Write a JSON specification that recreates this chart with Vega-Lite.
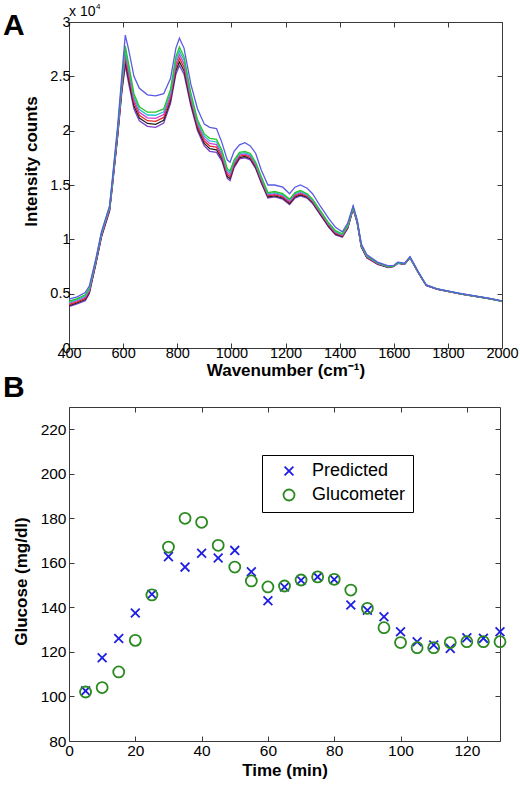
{
"$schema":"https://vega.github.io/schema/vega-lite/v6.json",
"padding":{"left":2,"top":2,"right":5,"bottom":5},
"background":"white",
"bounds":"flush",
"spacing":59,
"resolve":{"scale":{"color":"independent","shape":"independent"},"legend":{"color":"independent","shape":"independent"}},
"config":{
 "font":"Liberation Sans",
 "view":{"stroke":"#3a3a3a","strokeWidth":1},
 "axis":{"domain":false,"grid":false,"tickColor":"#3a3a3a","tickSize":-5,"labelFontSize":15,"labelColor":"#000","labelFont":"Liberation Sans","titleFont":"Liberation Sans","titleFontSize":17,"titleFontWeight":"bold","titleColor":"#000","labelFlush":false,"labelOverlap":false,"format":"d"},
 "title":{"font":"Liberation Sans","fontSize":30,"fontWeight":"bold","anchor":"start","frame":"group","color":"#000","baseline":"alphabetic"}
},
"vconcat":[
{
 "width":433,"height":326,
 "title":{"text":"A","dx":-66,"dy":38,"offset":0},
 "layer":[
  {"data":{"values":[
{"w":400,"s":1,"v":3800},{"w":430,"s":1,"v":4050},{"w":460,"s":1,"v":4350},{"w":475,"s":1,"v":5000},{"w":500,"s":1,"v":7800},{"w":520,"s":1,"v":10200},{"w":540,"s":1,"v":11800},{"w":550,"s":1,"v":12600},{"w":560,"s":1,"v":14800},{"w":580,"s":1,"v":19500},{"w":595,"s":1,"v":23500},{"w":608,"s":1,"v":26000},{"w":620,"s":1,"v":24400},{"w":640,"s":1,"v":22000},{"w":660,"s":1,"v":20900},{"w":690,"s":1,"v":20400},{"w":720,"s":1,"v":20300},{"w":750,"s":1,"v":20700},{"w":775,"s":1,"v":22500},{"w":795,"s":1,"v":25200},{"w":808,"s":1,"v":26000},{"w":825,"s":1,"v":25200},{"w":850,"s":1,"v":22300},{"w":875,"s":1,"v":20000},{"w":900,"s":1,"v":18600},{"w":920,"s":1,"v":18100},{"w":945,"s":1,"v":18000},{"w":965,"s":1,"v":17200},{"w":985,"s":1,"v":15600},{"w":995,"s":1,"v":15400},{"w":1010,"s":1,"v":16600},{"w":1030,"s":1,"v":17400},{"w":1050,"s":1,"v":17500},{"w":1070,"s":1,"v":17300},{"w":1090,"s":1,"v":16500},{"w":1110,"s":1,"v":15200},{"w":1135,"s":1,"v":13800},{"w":1160,"s":1,"v":13900},{"w":1190,"s":1,"v":13700},{"w":1215,"s":1,"v":13200},{"w":1235,"s":1,"v":13800},{"w":1255,"s":1,"v":14000},{"w":1280,"s":1,"v":13800},{"w":1300,"s":1,"v":13300},{"w":1330,"s":1,"v":12200},{"w":1360,"s":1,"v":11100},{"w":1385,"s":1,"v":10400},{"w":1410,"s":1,"v":10200},{"w":1430,"s":1,"v":11000},{"w":1450,"s":1,"v":12800},{"w":1465,"s":1,"v":11500},{"w":1480,"s":1,"v":9300},{"w":1500,"s":1,"v":8300},{"w":1540,"s":1,"v":7700},{"w":1580,"s":1,"v":7400},{"w":1600,"s":1,"v":7500},{"w":1615,"s":1,"v":7800},{"w":1640,"s":1,"v":7700},{"w":1660,"s":1,"v":8300},{"w":1690,"s":1,"v":6950},{"w":1720,"s":1,"v":5750},{"w":1760,"s":1,"v":5400},{"w":1850,"s":1,"v":4950},{"w":1950,"s":1,"v":4550},{"w":2000,"s":1,"v":4300},
{"w":400,"s":2,"v":3900},{"w":430,"s":2,"v":4150},{"w":460,"s":2,"v":4460},{"w":475,"s":2,"v":5100},{"w":500,"s":2,"v":7880},{"w":520,"s":2,"v":10280},{"w":540,"s":2,"v":11880},{"w":550,"s":2,"v":12680},{"w":560,"s":2,"v":14900},{"w":580,"s":2,"v":19640},{"w":595,"s":2,"v":23700},{"w":608,"s":2,"v":26360},{"w":620,"s":2,"v":24760},{"w":640,"s":2,"v":22280},{"w":660,"s":2,"v":21160},{"w":690,"s":2,"v":20660},{"w":720,"s":2,"v":20580},{"w":750,"s":2,"v":20960},{"w":775,"s":2,"v":22760},{"w":795,"s":2,"v":25520},{"w":808,"s":2,"v":26340},{"w":825,"s":2,"v":25520},{"w":850,"s":2,"v":22540},{"w":875,"s":2,"v":20200},{"w":900,"s":2,"v":18820},{"w":920,"s":2,"v":18340},{"w":945,"s":2,"v":18240},{"w":965,"s":2,"v":17400},{"w":985,"s":2,"v":15780},{"w":995,"s":2,"v":15580},{"w":1010,"s":2,"v":16740},{"w":1030,"s":2,"v":17520},{"w":1050,"s":2,"v":17620},{"w":1070,"s":2,"v":17420},{"w":1090,"s":2,"v":16620},{"w":1110,"s":2,"v":15320},{"w":1135,"s":2,"v":13900},{"w":1160,"s":2,"v":14000},{"w":1190,"s":2,"v":13800},{"w":1215,"s":2,"v":13300},{"w":1235,"s":2,"v":13900},{"w":1255,"s":2,"v":14100},{"w":1280,"s":2,"v":13880},{"w":1300,"s":2,"v":13380},{"w":1330,"s":2,"v":12280},{"w":1360,"s":2,"v":11180},{"w":1385,"s":2,"v":10480},{"w":1410,"s":2,"v":10260},{"w":1430,"s":2,"v":11060},{"w":1450,"s":2,"v":12840},{"w":1465,"s":2,"v":11540},{"w":1480,"s":2,"v":9340},{"w":1500,"s":2,"v":8340},{"w":1540,"s":2,"v":7730},{"w":1580,"s":2,"v":7420},{"w":1600,"s":2,"v":7510},{"w":1615,"s":2,"v":7810},{"w":1640,"s":2,"v":7710},{"w":1660,"s":2,"v":8310},{"w":1690,"s":2,"v":6960},{"w":1720,"s":2,"v":5760},{"w":1760,"s":2,"v":5410},{"w":1850,"s":2,"v":4956},{"w":1950,"s":2,"v":4554},{"w":2000,"s":2,"v":4304},
{"w":400,"s":3,"v":4000},{"w":430,"s":3,"v":4250},{"w":460,"s":3,"v":4570},{"w":475,"s":3,"v":5200},{"w":500,"s":3,"v":7960},{"w":520,"s":3,"v":10360},{"w":540,"s":3,"v":11960},{"w":550,"s":3,"v":12760},{"w":560,"s":3,"v":15000},{"w":580,"s":3,"v":19780},{"w":595,"s":3,"v":23900},{"w":608,"s":3,"v":26720},{"w":620,"s":3,"v":25120},{"w":640,"s":3,"v":22560},{"w":660,"s":3,"v":21420},{"w":690,"s":3,"v":20920},{"w":720,"s":3,"v":20860},{"w":750,"s":3,"v":21220},{"w":775,"s":3,"v":23020},{"w":795,"s":3,"v":25840},{"w":808,"s":3,"v":26680},{"w":825,"s":3,"v":25840},{"w":850,"s":3,"v":22780},{"w":875,"s":3,"v":20400},{"w":900,"s":3,"v":19040},{"w":920,"s":3,"v":18580},{"w":945,"s":3,"v":18480},{"w":965,"s":3,"v":17600},{"w":985,"s":3,"v":15960},{"w":995,"s":3,"v":15760},{"w":1010,"s":3,"v":16880},{"w":1030,"s":3,"v":17640},{"w":1050,"s":3,"v":17740},{"w":1070,"s":3,"v":17540},{"w":1090,"s":3,"v":16740},{"w":1110,"s":3,"v":15440},{"w":1135,"s":3,"v":14000},{"w":1160,"s":3,"v":14100},{"w":1190,"s":3,"v":13900},{"w":1215,"s":3,"v":13400},{"w":1235,"s":3,"v":14000},{"w":1255,"s":3,"v":14200},{"w":1280,"s":3,"v":13960},{"w":1300,"s":3,"v":13460},{"w":1330,"s":3,"v":12360},{"w":1360,"s":3,"v":11260},{"w":1385,"s":3,"v":10560},{"w":1410,"s":3,"v":10320},{"w":1430,"s":3,"v":11120},{"w":1450,"s":3,"v":12880},{"w":1465,"s":3,"v":11580},{"w":1480,"s":3,"v":9380},{"w":1500,"s":3,"v":8380},{"w":1540,"s":3,"v":7760},{"w":1580,"s":3,"v":7440},{"w":1600,"s":3,"v":7520},{"w":1615,"s":3,"v":7820},{"w":1640,"s":3,"v":7720},{"w":1660,"s":3,"v":8320},{"w":1690,"s":3,"v":6970},{"w":1720,"s":3,"v":5770},{"w":1760,"s":3,"v":5420},{"w":1850,"s":3,"v":4962},{"w":1950,"s":3,"v":4558},{"w":2000,"s":3,"v":4308},
{"w":400,"s":4,"v":4100},{"w":430,"s":4,"v":4350},{"w":460,"s":4,"v":4680},{"w":475,"s":4,"v":5300},{"w":500,"s":4,"v":8040},{"w":520,"s":4,"v":10440},{"w":540,"s":4,"v":12040},{"w":550,"s":4,"v":12840},{"w":560,"s":4,"v":15100},{"w":580,"s":4,"v":19920},{"w":595,"s":4,"v":24100},{"w":608,"s":4,"v":27080},{"w":620,"s":4,"v":25480},{"w":640,"s":4,"v":22840},{"w":660,"s":4,"v":21680},{"w":690,"s":4,"v":21180},{"w":720,"s":4,"v":21140},{"w":750,"s":4,"v":21480},{"w":775,"s":4,"v":23280},{"w":795,"s":4,"v":26160},{"w":808,"s":4,"v":27020},{"w":825,"s":4,"v":26160},{"w":850,"s":4,"v":23020},{"w":875,"s":4,"v":20600},{"w":900,"s":4,"v":19260},{"w":920,"s":4,"v":18820},{"w":945,"s":4,"v":18720},{"w":965,"s":4,"v":17800},{"w":985,"s":4,"v":16140},{"w":995,"s":4,"v":15940},{"w":1010,"s":4,"v":17020},{"w":1030,"s":4,"v":17760},{"w":1050,"s":4,"v":17860},{"w":1070,"s":4,"v":17660},{"w":1090,"s":4,"v":16860},{"w":1110,"s":4,"v":15560},{"w":1135,"s":4,"v":14100},{"w":1160,"s":4,"v":14200},{"w":1190,"s":4,"v":14000},{"w":1215,"s":4,"v":13500},{"w":1235,"s":4,"v":14100},{"w":1255,"s":4,"v":14300},{"w":1280,"s":4,"v":14040},{"w":1300,"s":4,"v":13540},{"w":1330,"s":4,"v":12440},{"w":1360,"s":4,"v":11340},{"w":1385,"s":4,"v":10640},{"w":1410,"s":4,"v":10380},{"w":1430,"s":4,"v":11180},{"w":1450,"s":4,"v":12920},{"w":1465,"s":4,"v":11620},{"w":1480,"s":4,"v":9420},{"w":1500,"s":4,"v":8420},{"w":1540,"s":4,"v":7790},{"w":1580,"s":4,"v":7460},{"w":1600,"s":4,"v":7530},{"w":1615,"s":4,"v":7830},{"w":1640,"s":4,"v":7730},{"w":1660,"s":4,"v":8330},{"w":1690,"s":4,"v":6980},{"w":1720,"s":4,"v":5780},{"w":1760,"s":4,"v":5430},{"w":1850,"s":4,"v":4968},{"w":1950,"s":4,"v":4562},{"w":2000,"s":4,"v":4312},
{"w":400,"s":5,"v":4200},{"w":430,"s":5,"v":4450},{"w":460,"s":5,"v":4790},{"w":475,"s":5,"v":5400},{"w":500,"s":5,"v":8120},{"w":520,"s":5,"v":10520},{"w":540,"s":5,"v":12120},{"w":550,"s":5,"v":12920},{"w":560,"s":5,"v":15200},{"w":580,"s":5,"v":20060},{"w":595,"s":5,"v":24300},{"w":608,"s":5,"v":27440},{"w":620,"s":5,"v":25840},{"w":640,"s":5,"v":23120},{"w":660,"s":5,"v":21940},{"w":690,"s":5,"v":21440},{"w":720,"s":5,"v":21420},{"w":750,"s":5,"v":21740},{"w":775,"s":5,"v":23540},{"w":795,"s":5,"v":26480},{"w":808,"s":5,"v":27360},{"w":825,"s":5,"v":26480},{"w":850,"s":5,"v":23260},{"w":875,"s":5,"v":20800},{"w":900,"s":5,"v":19480},{"w":920,"s":5,"v":19060},{"w":945,"s":5,"v":18960},{"w":965,"s":5,"v":18000},{"w":985,"s":5,"v":16320},{"w":995,"s":5,"v":16120},{"w":1010,"s":5,"v":17160},{"w":1030,"s":5,"v":17880},{"w":1050,"s":5,"v":17980},{"w":1070,"s":5,"v":17780},{"w":1090,"s":5,"v":16980},{"w":1110,"s":5,"v":15680},{"w":1135,"s":5,"v":14200},{"w":1160,"s":5,"v":14300},{"w":1190,"s":5,"v":14100},{"w":1215,"s":5,"v":13600},{"w":1235,"s":5,"v":14200},{"w":1255,"s":5,"v":14400},{"w":1280,"s":5,"v":14120},{"w":1300,"s":5,"v":13620},{"w":1330,"s":5,"v":12520},{"w":1360,"s":5,"v":11420},{"w":1385,"s":5,"v":10720},{"w":1410,"s":5,"v":10440},{"w":1430,"s":5,"v":11240},{"w":1450,"s":5,"v":12960},{"w":1465,"s":5,"v":11660},{"w":1480,"s":5,"v":9460},{"w":1500,"s":5,"v":8460},{"w":1540,"s":5,"v":7820},{"w":1580,"s":5,"v":7480},{"w":1600,"s":5,"v":7540},{"w":1615,"s":5,"v":7840},{"w":1640,"s":5,"v":7740},{"w":1660,"s":5,"v":8340},{"w":1690,"s":5,"v":6990},{"w":1720,"s":5,"v":5790},{"w":1760,"s":5,"v":5440},{"w":1850,"s":5,"v":4974},{"w":1950,"s":5,"v":4566},{"w":2000,"s":5,"v":4316},
{"w":400,"s":6,"v":4300},{"w":430,"s":6,"v":4550},{"w":460,"s":6,"v":4900},{"w":475,"s":6,"v":5500},{"w":500,"s":6,"v":8200},{"w":520,"s":6,"v":10600},{"w":540,"s":6,"v":12200},{"w":550,"s":6,"v":13000},{"w":560,"s":6,"v":15300},{"w":580,"s":6,"v":20200},{"w":595,"s":6,"v":24500},{"w":608,"s":6,"v":27800},{"w":620,"s":6,"v":26200},{"w":640,"s":6,"v":23400},{"w":660,"s":6,"v":22200},{"w":690,"s":6,"v":21700},{"w":720,"s":6,"v":21700},{"w":750,"s":6,"v":22000},{"w":775,"s":6,"v":23800},{"w":795,"s":6,"v":26800},{"w":808,"s":6,"v":27700},{"w":825,"s":6,"v":26800},{"w":850,"s":6,"v":23500},{"w":875,"s":6,"v":21000},{"w":900,"s":6,"v":19700},{"w":920,"s":6,"v":19300},{"w":945,"s":6,"v":19200},{"w":965,"s":6,"v":18200},{"w":985,"s":6,"v":16500},{"w":995,"s":6,"v":16300},{"w":1010,"s":6,"v":17300},{"w":1030,"s":6,"v":18000},{"w":1050,"s":6,"v":18100},{"w":1070,"s":6,"v":17900},{"w":1090,"s":6,"v":17100},{"w":1110,"s":6,"v":15800},{"w":1135,"s":6,"v":14300},{"w":1160,"s":6,"v":14400},{"w":1190,"s":6,"v":14200},{"w":1215,"s":6,"v":13700},{"w":1235,"s":6,"v":14300},{"w":1255,"s":6,"v":14500},{"w":1280,"s":6,"v":14200},{"w":1300,"s":6,"v":13700},{"w":1330,"s":6,"v":12600},{"w":1360,"s":6,"v":11500},{"w":1385,"s":6,"v":10800},{"w":1410,"s":6,"v":10500},{"w":1430,"s":6,"v":11300},{"w":1450,"s":6,"v":13000},{"w":1465,"s":6,"v":11700},{"w":1480,"s":6,"v":9500},{"w":1500,"s":6,"v":8500},{"w":1540,"s":6,"v":7850},{"w":1580,"s":6,"v":7500},{"w":1600,"s":6,"v":7550},{"w":1615,"s":6,"v":7850},{"w":1640,"s":6,"v":7750},{"w":1660,"s":6,"v":8350},{"w":1690,"s":6,"v":7000},{"w":1720,"s":6,"v":5800},{"w":1760,"s":6,"v":5450},{"w":1850,"s":6,"v":4980},{"w":1950,"s":6,"v":4570},{"w":2000,"s":6,"v":4320},
{"w":400,"s":7,"v":4500},{"w":430,"s":7,"v":4700},{"w":460,"s":7,"v":5100},{"w":475,"s":7,"v":5700},{"w":500,"s":7,"v":8300},{"w":520,"s":7,"v":10700},{"w":540,"s":7,"v":12300},{"w":550,"s":7,"v":13100},{"w":560,"s":7,"v":15500},{"w":580,"s":7,"v":20500},{"w":595,"s":7,"v":25000},{"w":608,"s":7,"v":28800},{"w":620,"s":7,"v":27500},{"w":640,"s":7,"v":25000},{"w":660,"s":7,"v":23900},{"w":690,"s":7,"v":23300},{"w":720,"s":7,"v":23200},{"w":750,"s":7,"v":23400},{"w":775,"s":7,"v":24800},{"w":795,"s":7,"v":27600},{"w":808,"s":7,"v":28500},{"w":825,"s":7,"v":27600},{"w":850,"s":7,"v":24300},{"w":875,"s":7,"v":22000},{"w":900,"s":7,"v":20600},{"w":920,"s":7,"v":20300},{"w":945,"s":7,"v":20200},{"w":965,"s":7,"v":18900},{"w":985,"s":7,"v":17300},{"w":995,"s":7,"v":17100},{"w":1010,"s":7,"v":18100},{"w":1030,"s":7,"v":18700},{"w":1050,"s":7,"v":18900},{"w":1070,"s":7,"v":18600},{"w":1090,"s":7,"v":17900},{"w":1110,"s":7,"v":16400},{"w":1135,"s":7,"v":15000},{"w":1160,"s":7,"v":15000},{"w":1190,"s":7,"v":14800},{"w":1215,"s":7,"v":14200},{"w":1235,"s":7,"v":14800},{"w":1255,"s":7,"v":15000},{"w":1280,"s":7,"v":14700},{"w":1300,"s":7,"v":14200},{"w":1330,"s":7,"v":13000},{"w":1360,"s":7,"v":11900},{"w":1385,"s":7,"v":11100},{"w":1410,"s":7,"v":10700},{"w":1430,"s":7,"v":11500},{"w":1450,"s":7,"v":13100},{"w":1465,"s":7,"v":11800},{"w":1480,"s":7,"v":9600},{"w":1500,"s":7,"v":8600},{"w":1540,"s":7,"v":7900},{"w":1580,"s":7,"v":7550},{"w":1600,"s":7,"v":7600},{"w":1615,"s":7,"v":7900},{"w":1640,"s":7,"v":7800},{"w":1660,"s":7,"v":8400},{"w":1690,"s":7,"v":7050},{"w":1720,"s":7,"v":5800},{"w":1760,"s":7,"v":5450},{"w":1850,"s":7,"v":5000},{"w":1950,"s":7,"v":4580},{"w":2000,"s":7,"v":4330}
  ]},
   "mark":{"type":"line","strokeWidth":1.3,"clip":true},
   "encoding":{
    "x":{"field":"w","type":"quantitative","scale":{"domain":[400,2000],"nice":false},"axis":{"values":[400,600,800,1000,1200,1400,1600,1800,2000],"title":"Wavenumber (cm⁻¹)","labelPadding":3,"titlePadding":3,"labelFontSize":14.5}},
    "y":{"field":"v","type":"quantitative","scale":{"domain":[0,30000],"nice":false},"axis":{"values":[0,5000,10000,15000,20000,25000,30000],"labelExpr":"'' + datum.value/10000","title":"Intensity counts","labelPadding":4,"titlePadding":9,"titleY":139,"labelFontSize":14.5}},
    "color":{"field":"s","type":"nominal","scale":{"domain":[1,2,3,4,5,6,7],"range":["#7a3fd0","#222222","#e02828","#d23cd2","#22c0d0","#28c428","#5a5ae6"]},"legend":null}
   }},
  {"data":{"values":[{}]},
   "mark":{"type":"text","text":"x 10","align":"left","baseline":"alphabetic","dx":0,"dy":-6,"fontSize":14,"color":"#000"},
   "encoding":{
    "x":{"datum":400,"type":"quantitative","axis":{"orient":"top","labels":false,"title":null,"values":[400,600,800,1000,1200,1400,1600,1800,2000]}},
    "y":{"datum":30000,"type":"quantitative","axis":{"orient":"right","labels":false,"title":null,"values":[0,5000,10000,15000,20000,25000,30000]}}
   }},
  {"data":{"values":[{}]},
   "mark":{"type":"text","text":"4","align":"left","baseline":"alphabetic","dx":27,"dy":-13,"fontSize":8,"color":"#000"},
   "encoding":{
    "x":{"datum":400,"type":"quantitative","axis":null},
    "y":{"datum":30000,"type":"quantitative","axis":null}
   }}
 ],
 "resolve":{"axis":{"x":"independent","y":"independent"}}
},
{
 "width":431,"height":334,
 "title":{"text":"B","dx":-66,"dy":4,"offset":8},
 "layer":[
  {"data":{"values":[
{"t":5,"series":"Predicted","g":102.5},{"t":10,"series":"Predicted","g":117.4},{"t":15,"series":"Predicted","g":126},{"t":20,"series":"Predicted","g":137.5},{"t":25,"series":"Predicted","g":145.9},{"t":30,"series":"Predicted","g":162.8},{"t":35,"series":"Predicted","g":158.1},{"t":40,"series":"Predicted","g":164.3},{"t":45,"series":"Predicted","g":162.2},{"t":50,"series":"Predicted","g":165.6},{"t":55,"series":"Predicted","g":156},{"t":60,"series":"Predicted","g":143},{"t":65,"series":"Predicted","g":149.2},{"t":70,"series":"Predicted","g":152.2},{"t":75,"series":"Predicted","g":153.7},{"t":80,"series":"Predicted","g":152.5},{"t":85,"series":"Predicted","g":141.1},{"t":90,"series":"Predicted","g":138.7},{"t":95,"series":"Predicted","g":135.8},{"t":100,"series":"Predicted","g":129.1},{"t":105,"series":"Predicted","g":124.6},{"t":110,"series":"Predicted","g":123.1},{"t":115,"series":"Predicted","g":121.6},{"t":120,"series":"Predicted","g":126.4},{"t":125,"series":"Predicted","g":126.1},{"t":130,"series":"Predicted","g":129.1},
{"t":5,"series":"Glucometer","g":102},{"t":10,"series":"Glucometer","g":104},{"t":15,"series":"Glucometer","g":111},{"t":20,"series":"Glucometer","g":125.2},{"t":25,"series":"Glucometer","g":145.6},{"t":30,"series":"Glucometer","g":167.1},{"t":35,"series":"Glucometer","g":180},{"t":40,"series":"Glucometer","g":178.2},{"t":45,"series":"Glucometer","g":167.9},{"t":50,"series":"Glucometer","g":158.1},{"t":55,"series":"Glucometer","g":151.9},{"t":60,"series":"Glucometer","g":149.2},{"t":65,"series":"Glucometer","g":149.6},{"t":70,"series":"Glucometer","g":152.3},{"t":75,"series":"Glucometer","g":153.7},{"t":80,"series":"Glucometer","g":152.6},{"t":85,"series":"Glucometer","g":147.8},{"t":90,"series":"Glucometer","g":139.6},{"t":95,"series":"Glucometer","g":130.9},{"t":100,"series":"Glucometer","g":124.2},{"t":105,"series":"Glucometer","g":121.9},{"t":110,"series":"Glucometer","g":121.9},{"t":115,"series":"Glucometer","g":124.2},{"t":120,"series":"Glucometer","g":124.6},{"t":125,"series":"Glucometer","g":124.6},{"t":130,"series":"Glucometer","g":124.6}
  ]},
   "mark":{"type":"point","filled":false,"strokeWidth":1.8,"size":121,"opacity":1},
   "encoding":{
    "x":{"field":"t","type":"quantitative","scale":{"domain":[0,130],"nice":false},"axis":{"values":[0,20,40,60,80,100,120],"title":"Time (min)","labelPadding":7,"titlePadding":4,"labelFontSize":15.5}},
    "y":{"field":"g","type":"quantitative","scale":{"domain":[80,230],"nice":false},"axis":{"values":[80,100,120,140,160,180,200,220],"title":"Glucose (mg/dl)","labelPadding":8,"titlePadding":10,"titleY":174,"labelFontSize":15.5}},
    "color":{"field":"series","type":"nominal","scale":{"domain":["Predicted","Glucometer"],"range":["#1e1ee0","#2b8a1f"]},
      "legend":{"orient":"none","legendX":193,"legendY":48,"title":null,"strokeColor":"#000","fillColor":"#fff","padding":7,"symbolOffset":11,"labelOffset":14,"labelFontSize":18,"labelFont":"Liberation Sans","labelColor":"#000","symbolSize":121,"symbolStrokeWidth":1.8,"rowPadding":5}},
    "shape":{"field":"series","type":"nominal","scale":{"domain":["Predicted","Glucometer"],"range":["M-0.8,-0.8L0.8,0.8M-0.8,0.8L0.8,-0.8","circle"]}}
   }},
  {"data":{"values":[{}]},
   "mark":{"type":"text","text":""},
   "encoding":{
    "x":{"datum":0,"type":"quantitative","axis":{"orient":"top","labels":false,"title":null,"values":[0,20,40,60,80,100,120]}},
    "y":{"datum":80,"type":"quantitative","axis":{"orient":"right","labels":false,"title":null,"values":[80,100,120,140,160,180,200,220]}}
   }}
 ],
 "resolve":{"axis":{"x":"independent","y":"independent"}}
}
]
}
